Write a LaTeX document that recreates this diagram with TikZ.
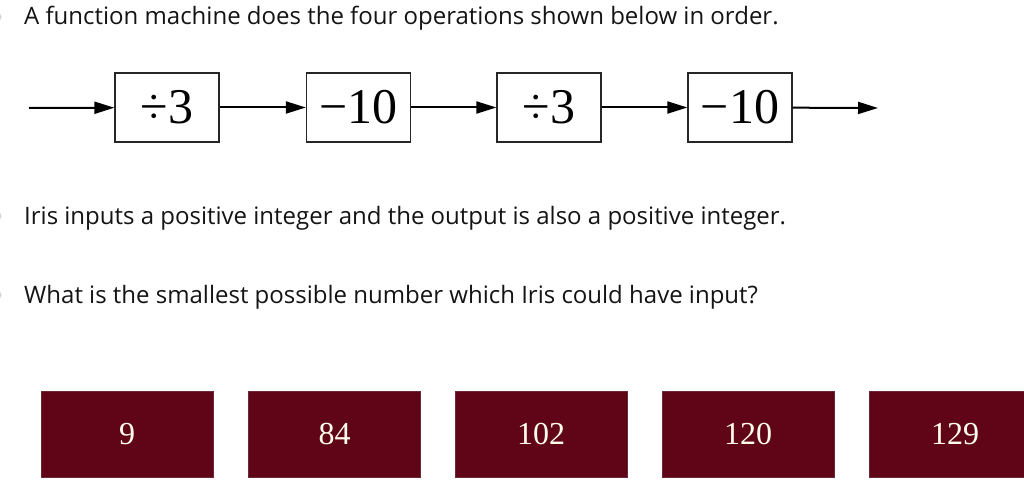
\documentclass[tikz,border=0pt]{standalone}
\usepackage{fontspec}
\setmainfont{Open Sans}
\newfontfamily\serif{Liberation Serif}
\usetikzlibrary{arrows.meta}
\definecolor{maroon}{RGB}{96,5,24}
\definecolor{txt}{RGB}{20,20,20}
\begin{document}
\begin{tikzpicture}[x=1pt,y=-1pt,
  qtext/.style={anchor=base west,inner sep=0pt,font=\fontsize{24}{28}\selectfont,text=txt},
  opbox/.style={draw=black!85,line width=1.3pt,minimum width=104pt,minimum height=69pt,inner sep=0pt,font=\serif\fontsize{50}{55}\selectfont},
  flow/.style={line width=2pt,-{Triangle[length=20pt,width=12pt]}},
  choice/.style={fill=maroon,draw=maroon!70!gray,line width=0.6pt,minimum width=172pt,minimum height=86pt,inner sep=0pt,text=white!92!yellow,font=\serif\fontsize{32}{36}\selectfont}]
\useasboundingbox (0,0) rectangle (1024,481);
\clip (0,0) rectangle (1024,481);
\fill[gray!35] (-3,17) circle (4.5) (-3,216) circle (4.5) (-3,295) circle (4.5);
\node[qtext] (t1) at (24,25) {A function machine does the four operations shown below in order.};
\node[qtext] (t2) at (24,224) {Iris inputs a positive integer and the output is also a positive integer.};
\node[qtext] (t3) at (24,303) {What is the smallest possible number which Iris could have input?};
\coordinate (in) at (29,108);
\coordinate (out) at (878,108);
\node[opbox] (b1) at (167,107.5) {÷3};
\node[opbox] (b2) at (358.5,107.5) {−10};
\node[opbox] (b3) at (549,107.5) {÷3};
\node[opbox] (b4) at (740,107.5) {−10};
\draw[flow] (in) -- (b1);
\draw[flow] (b1) -- (b2);
\draw[flow] (b2) -- (b3);
\draw[flow] (b3) -- (b4);
\draw[flow] (b4) -- (out);
\node[choice] (c1) at (127,434) {9};
\node[choice] (c2) at (334.5,434) {84};
\node[choice] (c3) at (541,434) {102};
\node[choice] (c4) at (748,434) {120};
\node[choice] (c5) at (955,434) {129};
\end{tikzpicture}
\end{document}
